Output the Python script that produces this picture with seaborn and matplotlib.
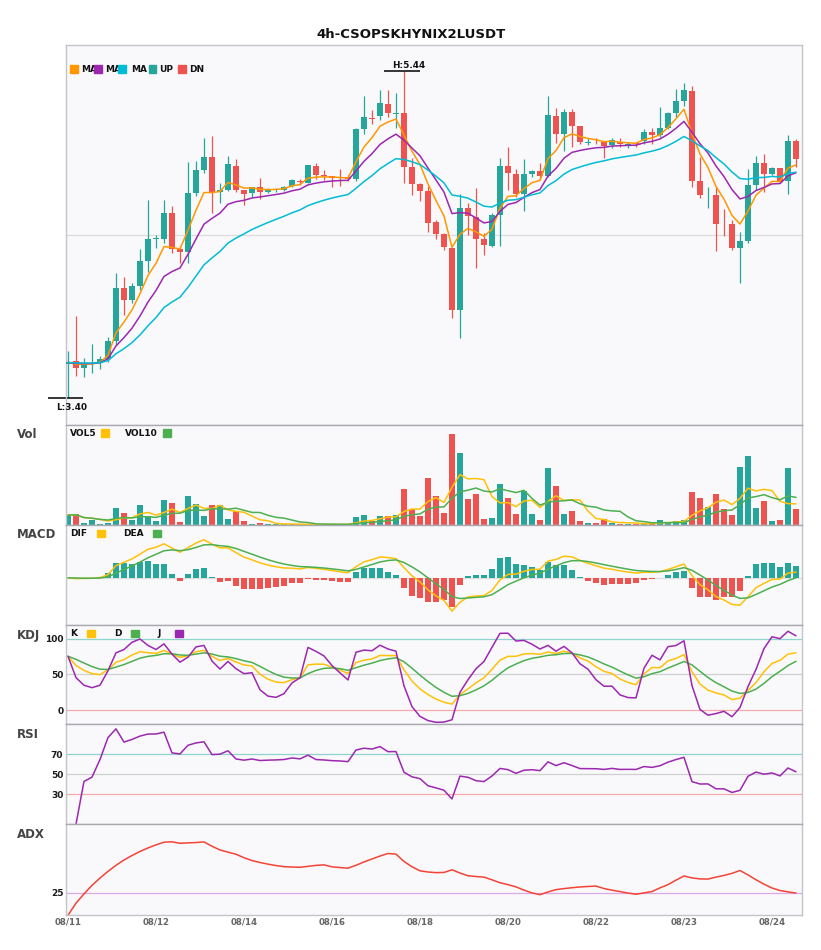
import numpy as np
import pandas as pd
import matplotlib
matplotlib.use("Agg")
import matplotlib.pyplot as plt
from matplotlib.patches import Rectangle
import seaborn as sns

sns.set_theme(style="white")
plt.rcParams["font.family"] = ["DejaVu Sans"]

# ---------------- data ----------------
title = "4h-CSOPSKHYNIX2LUSDT"
opens = [3.612, 3.631, 3.589, 3.612, 3.616, 3.641, 3.756, 4.086, 4.011, 4.099,
         4.254, 4.392, 4.394, 4.554, 4.327, 4.313, 4.679, 4.822, 4.903, 4.683,
         4.701, 4.851, 4.697, 4.681, 4.714, 4.683, 4.699, 4.697, 4.722, 4.756,
         4.743, 4.851, 4.791, 4.783, 4.780, 4.780, 4.764, 5.078, 5.146, 5.159,
         5.234, 5.173, 5.178, 4.841, 4.737, 4.691, 4.498, 4.425, 4.338, 3.949,
         4.587, 4.529, 4.392, 4.348, 4.541, 4.849, 4.801, 4.672, 4.797, 4.816,
         4.787, 5.159, 5.047, 5.184, 5.097, 4.993, 5.001, 4.997, 4.978, 5.001,
         4.982, 4.988, 5.005, 5.059, 5.040, 5.084, 5.178, 5.252, 5.315, 4.753,
         4.664, 4.666, 4.489, 4.485, 4.336, 4.379, 4.728, 4.864, 4.797, 4.837,
         4.753, 5.003]
highs = [3.695, 3.914, 3.647, 3.737, 3.662, 3.778, 4.178, 4.157, 4.115, 4.327,
         4.639, 4.417, 4.639, 4.600, 4.348, 4.870, 4.878, 5.022, 5.034, 4.745,
         4.909, 4.891, 4.700, 4.718, 4.774, 4.712, 4.712, 4.722, 4.764, 4.764,
         4.853, 4.864, 4.822, 4.787, 4.832, 4.795, 5.088, 5.282, 5.196, 5.321,
         5.321, 5.304, 5.440, 4.895, 4.745, 4.724, 4.510, 4.431, 4.338, 4.672,
         4.618, 4.708, 4.427, 4.552, 4.899, 4.968, 4.828, 4.891, 4.822, 4.864,
         5.284, 5.213, 5.207, 5.201, 5.097, 5.026, 5.026, 4.997, 5.020, 5.020,
         4.995, 4.999, 5.078, 5.086, 5.217, 5.184, 5.327, 5.367, 5.346, 4.905,
         4.718, 4.718, 4.579, 4.514, 4.437, 4.828, 4.909, 4.926, 4.843, 4.837,
         5.040, 5.015]
lows = [3.398, 3.539, 3.529, 3.554, 3.583, 3.627, 3.731, 3.918, 3.995, 4.074,
        4.188, 4.338, 4.369, 4.302, 4.240, 4.240, 4.662, 4.805, 4.556, 4.618,
        4.693, 4.683, 4.604, 4.652, 4.645, 4.681, 4.687, 4.693, 4.718, 4.731,
        4.739, 4.766, 4.760, 4.718, 4.722, 4.756, 4.756, 5.045, 5.113, 5.138,
        5.155, 5.088, 4.739, 4.666, 4.631, 4.437, 4.394, 4.323, 3.901, 3.776,
        4.417, 4.209, 4.292, 4.340, 4.348, 4.697, 4.656, 4.568, 4.780, 4.760,
        4.780, 4.993, 4.943, 4.968, 4.984, 4.978, 4.984, 4.895, 4.963, 4.968,
        4.961, 4.968, 4.984, 4.984, 5.030, 5.082, 5.155, 5.225, 4.718, 4.649,
        4.583, 4.319, 4.412, 4.323, 4.119, 4.365, 4.697, 4.687, 4.791, 4.739,
        4.672, 4.843]
closes = [3.622, 3.589, 3.612, 3.616, 3.641, 3.756, 4.086, 4.011, 4.099, 4.254,
          4.392, 4.394, 4.554, 4.327, 4.313, 4.679, 4.822, 4.903, 4.683, 4.701,
          4.860, 4.697, 4.672, 4.714, 4.685, 4.697, 4.704, 4.716, 4.760, 4.747,
          4.853, 4.791, 4.785, 4.776, 4.772, 4.764, 5.078, 5.151, 5.140, 5.240,
          5.176, 5.178, 4.843, 4.737, 4.693, 4.494, 4.425, 4.344, 3.949, 4.583,
          4.535, 4.392, 4.354, 4.541, 4.849, 4.805, 4.672, 4.797, 4.816, 4.787,
          5.165, 5.047, 5.184, 5.097, 4.999, 4.997, 4.995, 4.976, 5.009, 4.984,
          4.986, 4.984, 5.059, 5.043, 5.084, 5.178, 5.252, 5.321, 4.753, 4.666,
          4.668, 4.485, 4.483, 4.336, 4.379, 4.728, 4.864, 4.797, 4.837, 4.749,
          5.003, 4.893]
volumes = [28, 30, 4, 13, 1, 4, 49, 34, 13, 58,
           25, 10, 73, 64, 7, 85, 61, 25, 58, 58,
           16, 40, 10, 1, 4, 1, 1.0, 0.6, 0.5, 0.8,
           0.5, 0.6, 0.4, 0.5, 0.7, 0.5, 22, 28, 10, 25,
           25, 28, 106, 46, 25, 139, 85, 34, 271, 214,
           76, 91, 16, 19, 121, 79, 31, 100, 31, 13,
           169, 115, 31, 40, 10, 4, 4, 16, 4, 1,
           1, 1, 4, 6, 13, 4, 10, 13, 97, 79,
           52, 91, 46, 28, 172, 205, 49, 70, 10, 13,
           169, 46]
tick_labels = ["08/11", "08/12", "08/14", "08/16", "08/18", "08/20", "08/22", "08/23", "08/24"]
tick_step = 11

# ---------------- derived indicators ----------------
o = pd.Series(opens, dtype=float)
h = pd.Series(highs, dtype=float)
l = pd.Series(lows, dtype=float)
c = pd.Series(closes, dtype=float)
v = pd.Series(volumes, dtype=float)
n = len(c)
xs = np.arange(n)

ma5 = c.ewm(span=5, adjust=False).mean()
ma10 = c.ewm(span=10, adjust=False).mean()
ma20 = c.ewm(span=20, adjust=False).mean()
vol5 = v.rolling(5, min_periods=1).mean()
vol10 = v.rolling(10, min_periods=1).mean()

dif = c.ewm(span=6, adjust=False).mean() - c.ewm(span=13, adjust=False).mean()
dea = dif.ewm(span=5, adjust=False).mean()
hist = 2 * (dif - dea)

low9 = l.rolling(9, min_periods=1).min()
high9 = h.rolling(9, min_periods=1).max()
rsv = ((c - low9) / (high9 - low9) * 100).fillna(50)
kk = rsv.ewm(com=2, adjust=False).mean()
dd = kk.ewm(com=2, adjust=False).mean()
jj = 3 * kk - 2 * dd

diff = c.diff()
gain = diff.clip(lower=0)
loss = (-diff).clip(lower=0)
ag = gain.ewm(alpha=1 / 14).mean()
al = loss.ewm(alpha=1 / 14).mean()
rsi = 100 * ag / (ag + al)

pc = c.shift(1)
tr = pd.concat([h - l, (h - pc).abs(), (l - pc).abs()], axis=1).max(axis=1)
up = h - h.shift(1)
dn = l.shift(1) - l
pdm = pd.Series(np.where((up > dn) & (up > 0), up, 0.0))
ndm = pd.Series(np.where((dn > up) & (dn > 0), dn, 0.0))
atr = tr.ewm(span=14, adjust=False).mean()
pdi = 100 * pdm.ewm(span=14, adjust=False).mean() / atr
ndi = 100 * ndm.ewm(span=14, adjust=False).mean() / atr
dx = (100 * (pdi - ndi).abs() / (pdi + ndi)).fillna(0)
adx = dx.ewm(span=14, adjust=False).mean()

# ---------------- style ----------------
UPC, DNC = "#26a69a", "#ef5350"
C_MA5, C_MA10, C_MA20 = "#ff9800", "#9c27b0", "#00bcd4"
C_Y, C_G, C_P = "#ffc107", "#4caf50", "#9c27b0"
BG = "#f9f9fb"

W, H = 821, 950
fig = plt.figure(figsize=(W / 100, H / 100), dpi=100)
fig.patch.set_facecolor("white")
LX, RX = 65.5, 801.5


def add_ax(top, bot):
    ax = fig.add_axes([LX / W, 1 - bot / H, (RX - LX) / W, (bot - top) / H])
    ax.set_facecolor(BG)
    for s in ax.spines.values():
        s.set_color("#c4c4ca")
        s.set_linewidth(1.0)
    ax.set_xlim(-0.31, n - 0.31)
    ax.tick_params(length=0, labelbottom=False, labelleft=False)
    ax.set_xticks([])
    ax.set_yticks([])
    return ax


def ftext(x, y, s, **kw):
    fig.text(x / W, 1 - y / H, s, **kw)


def fsq(x, y, color, size=7.7):
    fig.add_artist(Rectangle((x / W, 1 - (y + size) / H), size / W, size / H,
                             transform=fig.transFigure, color=color, zorder=10))


ax0 = add_ax(45, 424.5)
ax1 = add_ax(424.5, 524.5)
ax2 = add_ax(524.5, 624.5)
ax3 = add_ax(624.5, 724.3)
ax4 = add_ax(724.3, 824.3)
ax5 = add_ax(824.3, 915.3)
for a in (ax1, ax2, ax3, ax4, ax5):
    a.spines["top"].set_color("#a9a9b0")

colors = [UPC if cc >= oo else DNC for oo, cc in zip(opens, closes)]

# ---- candles ----
rng = h.max() - l.min()
ax0.set_ylim(l.min() - 0.08 * rng, h.max() + 0.08 * rng)
ax0.axhline((l.min() + h.max()) / 2, color="#dcdcdc", lw=0.9, zorder=0)
ax0.vlines(xs, l, h, colors=colors, lw=0.9, zorder=2)
body = np.maximum((c - o).abs(), 0.006)
ax0.bar(xs, body, bottom=np.minimum(o, c), width=0.75, color=colors, zorder=3, linewidth=0)
for s, col in ((ma5, C_MA5), (ma10, C_MA10), (ma20, C_MA20)):
    sns.lineplot(x=xs, y=s.values, ax=ax0, color=col, lw=1.1, zorder=4, legend=False)
ih, il = int(h.idxmax()), int(l.idxmin())
ax0.hlines(h[ih], ih - 2.5, ih + 2.0, color="black", lw=1.1, clip_on=False)
ax0.annotate(f"H:{h[ih]:.2f}", xy=(ih + 0.55, h[ih]), xytext=(0, 4.4), textcoords="offset points",
             ha="center", va="center", fontsize=6.4, fontweight="bold", color="#111")
ax0.hlines(l[il], il - 2.46, il + 1.9, color="black", lw=1.1, clip_on=False)
ax0.annotate(f"L:{l[il]:.2f}", xy=(il + 0.46, l[il]), xytext=(0, -6.5), textcoords="offset points",
             ha="center", va="center", fontsize=6.4, fontweight="bold", color="#111",
             annotation_clip=False)

# ---- volume ----
ax1.bar(xs, v, width=0.75, color=colors, linewidth=0, zorder=2)
sns.lineplot(x=xs, y=vol5.values, ax=ax1, color=C_Y, lw=1.1, zorder=3, legend=False)
sns.lineplot(x=xs, y=vol10.values, ax=ax1, color=C_G, lw=1.1, zorder=3, legend=False)
ax1.set_ylim(0, v.max() * 1.1)

# ---- MACD ----
hcol = [UPC if x >= 0 else DNC for x in hist]
ax2.axhline(0, color="#dddddd", lw=0.9, zorder=0)
ax2.bar(xs, hist, width=0.75, color=hcol, linewidth=0, zorder=2)
sns.lineplot(x=xs, y=dif.values, ax=ax2, color=C_Y, lw=1.1, zorder=3, legend=False)
sns.lineplot(x=xs, y=dea.values, ax=ax2, color=C_G, lw=1.1, zorder=3, legend=False)
allm = pd.concat([dif, dea, hist])
ax2.set_ylim(allm.min() * 1.4, allm.max() * 1.4)

# ---- KDJ ----
ax3.set_ylim(-20, 120)
ax3.axhline(100, color="#8fd3cd", lw=0.9, zorder=0)
ax3.axhline(50, color="#d0d0d0", lw=0.9, zorder=0)
ax3.axhline(0, color="#f4aaaa", lw=0.9, zorder=0)
sns.lineplot(x=xs, y=kk.values, ax=ax3, color=C_Y, lw=1.1, legend=False)
sns.lineplot(x=xs, y=dd.values, ax=ax3, color=C_G, lw=1.1, legend=False)
sns.lineplot(x=xs, y=jj.values, ax=ax3, color=C_P, lw=1.1, legend=False)
ax3.set_yticks([0, 50, 100])

# ---- RSI ----
ax4.set_ylim(0, 100)
ax4.axhline(70, color="#8fd3cd", lw=0.9, zorder=0)
ax4.axhline(50, color="#d0d0d0", lw=0.9, zorder=0)
ax4.axhline(30, color="#f4aaaa", lw=0.9, zorder=0)
sns.lineplot(x=xs[1:], y=rsi.values[1:], ax=ax4, color=C_P, lw=1.1, legend=False)
ax4.set_yticks([30, 50, 70])

# ---- ADX ----
ax5.set_ylim(0, 100)
ax5.axhline(25, color="#dba8e8", lw=0.9, zorder=0)
sns.lineplot(x=xs, y=adx.values, ax=ax5, color="#f44336", lw=1.1, legend=False)
ax5.set_yticks([25])
ax5.set_xticks(np.arange(len(tick_labels)) * tick_step)
ax5.set_xticklabels(tick_labels)
ax5.tick_params(labelbottom=True, pad=3)

for a in (ax3, ax4, ax5):
    a.tick_params(labelleft=True, pad=1.6)
    for t in a.get_yticklabels():
        t.set_fontsize(6.5)
        t.set_fontweight("bold")
        t.set_color("#1a1a1a")
for t in ax5.get_xticklabels():
    t.set_fontsize(6.2)
    t.set_fontweight("bold")
    t.set_color("#666666")

for a in (ax0, ax1, ax2, ax3, ax4, ax5):
    a.set_xlabel("")
    a.set_ylabel("")

# ---------------- texts / legends ----------------
ftext(411, 34, title, ha="center", va="center", fontsize=9.5, fontweight="bold", color="#111")

lab = dict(ha="left", va="center", fontsize=8.5, fontweight="bold", color="#444444")
ftext(17, 435, "Vol", **lab)
ftext(17, 534.5, "MACD", **lab)
ftext(17, 635, "KDJ", **lab)
ftext(17, 734.5, "RSI", **lab)
ftext(17, 834.5, "ADX", **lab)

lg = dict(ha="left", va="center", fontsize=6.5, fontweight="bold", color="#111", zorder=5)
for tx, txt in ((81.3, "MA"), (105.3, "MA"), (131.3, "MA"), (159.3, "UP"), (189, "DN")):
    ftext(tx, 69, txt, **lg)
for sx, col in ((70, C_MA5), (94.3, C_MA10), (118.3, C_MA20), (148.7, UPC), (178, DNC)):
    fsq(sx, 65, col)

ftext(70, 433.5, "VOL5", **lg)
fsq(101, 429.5, C_Y)
ftext(125, 433.5, "VOL10", **lg)
fsq(163, 429.5, C_G)

ftext(70, 533.5, "DIF", **lg)
fsq(97, 529.5, C_Y)
ftext(123, 533.5, "DEA", **lg)
fsq(153, 529.5, C_G)

ftext(70, 633.5, "K", **lg)
fsq(87, 629.5, C_Y)
ftext(114, 633.5, "D", **lg)
fsq(131, 629.5, C_G)
ftext(157, 633.5, "J", **lg)
fsq(175, 629.5, C_P)

fig.savefig("out.png", dpi=100)
